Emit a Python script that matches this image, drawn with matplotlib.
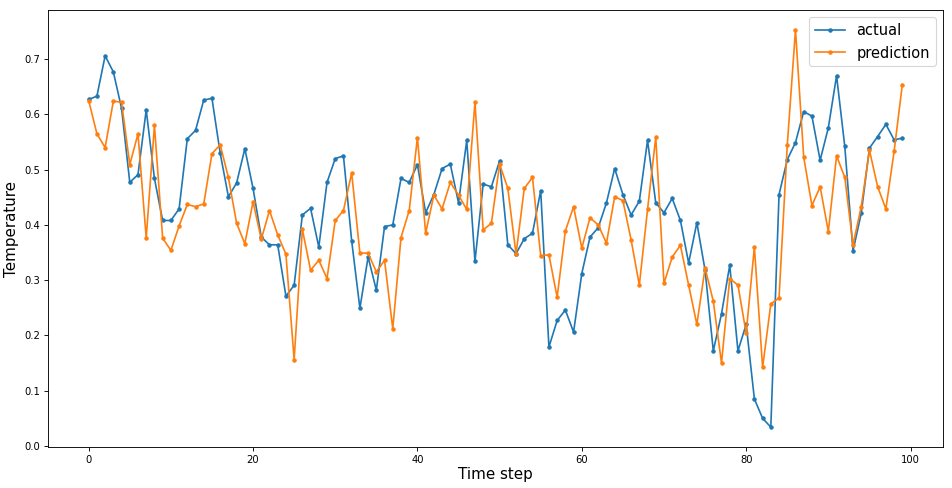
import matplotlib
matplotlib.use("Agg")
import matplotlib.pyplot as plt
import numpy as np

actual = [0.627, 0.633, 0.706, 0.677, 0.611, 0.477, 0.491, 0.608, 0.484, 0.408,
          0.408, 0.429, 0.556, 0.571, 0.626, 0.629, 0.530, 0.451, 0.476, 0.538,
          0.466, 0.378, 0.364, 0.364, 0.271, 0.291, 0.418, 0.430, 0.360, 0.477,
          0.520, 0.525, 0.371, 0.249, 0.342, 0.282, 0.397, 0.400, 0.484, 0.477,
          0.509, 0.422, 0.455, 0.502, 0.510, 0.440, 0.553, 0.334, 0.474, 0.469,
          0.516, 0.364, 0.348, 0.375, 0.385, 0.462, 0.179, 0.227, 0.246, 0.206,
          0.312, 0.378, 0.395, 0.440, 0.502, 0.455, 0.418, 0.443, 0.553, 0.440,
          0.422, 0.448, 0.408, 0.331, 0.404, 0.318, 0.172, 0.239, 0.327, 0.172,
          0.220, 0.085, 0.050, 0.034, 0.455, 0.518, 0.549, 0.605, 0.597, 0.517,
          0.576, 0.670, 0.542, 0.353, 0.421, 0.539, 0.560, 0.582, 0.554, 0.557]

prediction = [0.625, 0.565, 0.540, 0.624, 0.622, 0.509, 0.565, 0.376, 0.580, 0.376,
              0.354, 0.398, 0.437, 0.433, 0.438, 0.529, 0.545, 0.486, 0.403, 0.366,
              0.442, 0.374, 0.426, 0.382, 0.347, 0.156, 0.392, 0.318, 0.336, 0.303,
              0.408, 0.426, 0.494, 0.349, 0.349, 0.315, 0.336, 0.212, 0.377, 0.426,
              0.558, 0.385, 0.454, 0.429, 0.477, 0.454, 0.428, 0.622, 0.391, 0.403,
              0.510, 0.466, 0.347, 0.466, 0.486, 0.344, 0.346, 0.269, 0.389, 0.433,
              0.358, 0.413, 0.400, 0.367, 0.451, 0.444, 0.373, 0.291, 0.428, 0.559,
              0.294, 0.342, 0.363, 0.291, 0.220, 0.322, 0.262, 0.150, 0.303, 0.291,
              0.204, 0.360, 0.142, 0.257, 0.268, 0.544, 0.753, 0.523, 0.435, 0.469,
              0.388, 0.525, 0.486, 0.364, 0.433, 0.535, 0.469, 0.429, 0.533, 0.654]

steps = np.arange(len(actual))

dpi = 80
fig = plt.figure(figsize=(952/dpi, 488/dpi), dpi=dpi)
ax = fig.add_axes([48/952, 1-447/488, (943-48)/952, (447-10)/488])
ax.plot(steps, actual, marker='.', color='#1f77b4', label='actual')
ax.plot(steps, prediction, marker='.', color='#ff7f0e', label='prediction')
ax.tick_params(labelsize=9, length=3.5)
ax.set_xlabel('Time step', fontsize=13.6, labelpad=2)
ax.set_ylabel('Temperature', fontsize=13.6, labelpad=5)
ax.legend(loc='upper right', fontsize=13.2)
fig.savefig('out.png', dpi=dpi)
